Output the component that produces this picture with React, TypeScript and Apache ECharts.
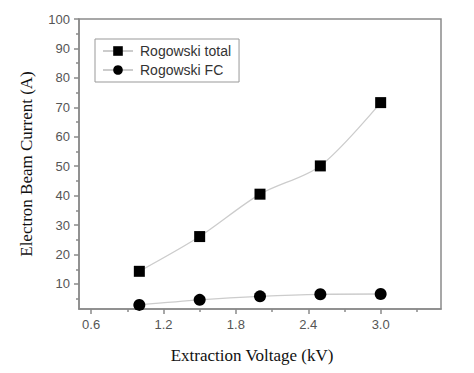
import React, { useEffect, useRef } from "react";
import * as echarts from "echarts";

const voltages = [1.0, 1.5, 2.0, 2.5, 3.0];
const rogowskiTotal = [14.3, 26.1, 40.5, 50.1, 71.6];
const rogowskiFC = [2.9, 4.6, 5.8, 6.5, 6.6];
const xMajorTicks = [0.6, 1.2, 1.8, 2.4, 3.0];
const xMinorTicks = [0.9, 1.5, 2.1, 2.7, 3.3];
const yMajorTicks = [10, 20, 30, 40, 50, 60, 70, 80, 90, 100];
const yMinorTicks = [5, 15, 25, 35, 45, 55, 65, 75, 85, 95];

export default function App() {
  const ref = useRef<HTMLDivElement>(null);
  useEffect(() => {
    if (!ref.current) return;
    const chart = echarts.init(ref.current, undefined, { renderer: "svg" });
    const axisGray = "#8a8a8a";
    const gridLeft = 79, gridTop = 19, gridRight = 33, gridBottom = 64;
    const gridW = 474 - gridLeft - gridRight;
    const gridH = 373 - gridTop - gridBottom;
    const labelStyle = {
      color: "#555555",
      fontFamily: "Liberation Sans",
      fontSize: 13,
    };
    const baseX = {
      type: "value" as const,
      min: 0.5,
      max: 3.5,
      splitLine: { show: false },
    };
    const baseY = {
      type: "value" as const,
      min: 1.5,
      max: 100,
      splitLine: { show: false },
    };
    chart.setOption({
      animation: false,
      backgroundColor: "#ffffff",
      grid: {
        left: gridLeft,
        top: gridTop,
        right: gridRight,
        bottom: gridBottom,
        show: true,
        borderColor: axisGray,
        borderWidth: 1.5,
      },
      legend: {
        orient: "vertical",
        left: 95,
        top: 39,
        width: 148,
        padding: [5, 8, 5, 7],
        itemGap: 5,
        itemWidth: 30,
        itemHeight: 12,
        borderColor: "#999",
        borderWidth: 1,
        textStyle: {
          color: "#333",
          fontFamily: "Liberation Sans",
          fontSize: 14,
          padding: [0, 0, 0, 2],
        },
        data: ["Rogowski total", "Rogowski FC"],
      },
      xAxis: [
        {
          ...baseX,
          position: "bottom",
          name: "Extraction Voltage (kV)",
          nameLocation: "middle",
          nameGap: 38,
          nameTextStyle: {
            color: "#111",
            fontFamily: "Liberation Serif",
            fontSize: 17,
            padding: [0, 16, 0, 0],
          },
          axisLine: { show: true, lineStyle: { color: axisGray, width: 1.5 } },
          axisTick: {
            show: true,
            customValues: xMajorTicks,
            length: 5,
            lineStyle: { color: axisGray, width: 1.5 },
          },
          axisLabel: {
            ...labelStyle,
            margin: 9,
            customValues: xMajorTicks,
            formatter: (v: number) => v.toFixed(1),
          },
        },
        {
          ...baseX,
          position: "top",
          offset: -gridH,
          axisLine: { show: true, lineStyle: { color: axisGray, opacity: 0 } },
          axisTick: {
            show: true,
            inside: true,
            customValues: xMinorTicks,
            length: 3,
            lineStyle: { color: axisGray, width: 1.5 },
          },
          axisLabel: { show: false },
        },
      ],
      yAxis: [
        {
          ...baseY,
          position: "left",
          name: "Electron Beam Current (A)",
          nameLocation: "middle",
          nameGap: 44,
          nameTextStyle: {
            color: "#111",
            fontFamily: "Liberation Serif",
            fontSize: 17,
          },
          axisLine: { show: true, lineStyle: { color: axisGray, width: 1.5 } },
          axisTick: {
            show: true,
            customValues: yMajorTicks,
            length: 5,
            lineStyle: { color: axisGray, width: 1.5 },
          },
          axisLabel: {
            ...labelStyle,
            margin: 9,
            customValues: yMajorTicks,
          },
        },
        {
          ...baseY,
          position: "right",
          offset: -gridW,
          axisLine: { show: true, lineStyle: { color: axisGray, opacity: 0 } },
          axisTick: {
            show: true,
            inside: true,
            customValues: yMinorTicks,
            length: 3,
            lineStyle: { color: axisGray, width: 1.5 },
          },
          axisLabel: { show: false },
        },
      ],
      series: [
        {
          name: "Rogowski total",
          type: "line",
          smooth: 0.3,
          symbol: "rect",
          symbolSize: 11,
          itemStyle: { color: "#000" },
          lineStyle: { color: "#cccccc", width: 1.3 },
          data: voltages.map((v, i) => [v, rogowskiTotal[i]]),
        },
        {
          name: "Rogowski FC",
          type: "line",
          smooth: 0.3,
          symbol: "circle",
          symbolSize: 12,
          itemStyle: { color: "#000" },
          lineStyle: { color: "#cccccc", width: 1.3 },
          data: voltages.map((v, i) => [v, rogowskiFC[i]]),
        },
      ],
    });
    return () => chart.dispose();
  }, []);
  return <div ref={ref} style={{ width: 474, height: 373, margin: -8 }} />;
}
